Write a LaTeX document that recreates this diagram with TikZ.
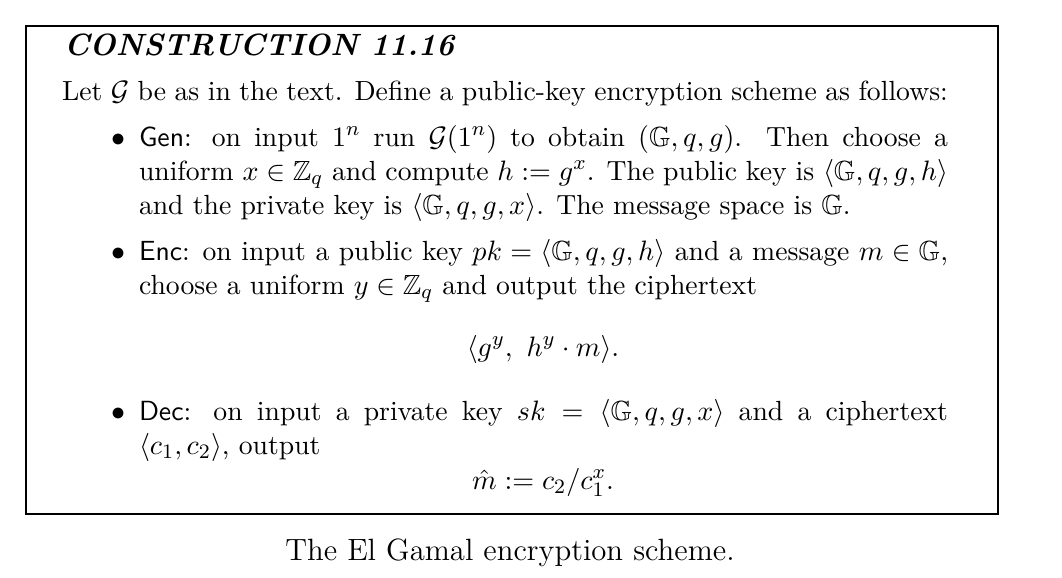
\documentclass[tikz,border=0pt]{standalone}
\usepackage{amsmath,amssymb}
\begin{document}
\begin{tikzpicture}[x=0.39pt,y=-0.39pt,
  every node/.style={font=\fontsize{10.8}{13}\selectfont},
  ln/.style={anchor=base west,inner sep=0pt,outer sep=0pt},
  mid/.style={anchor=base,inner sep=0pt}]
\useasboundingbox (0,0) rectangle (1062,577);
\node[draw,line width=0.8pt,minimum width=972*0.39pt,minimum height=488*0.39pt,anchor=north west,inner sep=0pt] (box) at (25,25) {};
\node[ln,font=\fontsize{12}{14}\selectfont] (t) at (64,55) {\textbf{\textit{CONSTRUCTION 11.16}}};
\node[ln] (l0) at (62,100) {\hbox to 345.5pt{Let $\mathcal{G}$ be as in the text. Define a public-key encryption scheme as follows:}};
\node[ln] (b1) at (111,146) {$\bullet$};
\node[ln] (g1) at (139,146) {\hbox to 315.5pt{\textsf{Gen}: on input $1^n$ run $\mathcal{G}(1^n)$ to obtain $(\mathbb{G},q,g)$. Then choose a}};
\node[ln] (g2) at (139,180) {\hbox to 315.5pt{uniform $x\in\mathbb{Z}_q$ and compute $h:=g^x$. The public key is $\langle\mathbb{G},q,g,h\rangle$}};
\node[ln] (g3) at (139,214) {and the private key is $\langle\mathbb{G},q,g,x\rangle$. The message space is $\mathbb{G}$.};
\node[ln] (b2) at (111,260) {$\bullet$};
\node[ln] (e1) at (139,260) {\hbox to 315.5pt{\textsf{Enc}: on input a public key $pk=\langle\mathbb{G},q,g,h\rangle$ and a message $m\in\mathbb{G}$,}};
\node[ln] (e2) at (139,294) {choose a uniform $y\in\mathbb{Z}_q$ and output the ciphertext};
\node[mid] (ef) at (543,356) {$\langle g^y,\ h^y\cdot m\rangle.$};
\node[ln] (b3) at (111,420) {$\bullet$};
\node[ln] (d1) at (139,420) {\hbox to 315.5pt{\textsf{Dec}: on input a private key $sk = \langle\mathbb{G},q,g,x\rangle$ and a ciphertext}};
\node[ln] (d2) at (139,454) {$\langle c_1,c_2\rangle$, output};
\node[mid] (df) at (543,489) {$\hat{m}:=c_2/c_1^x.$};
\node[mid,font=\fontsize{12}{14}\selectfont] (cap) at (510,560) {The El Gamal encryption scheme.};
\end{tikzpicture}
\end{document}
